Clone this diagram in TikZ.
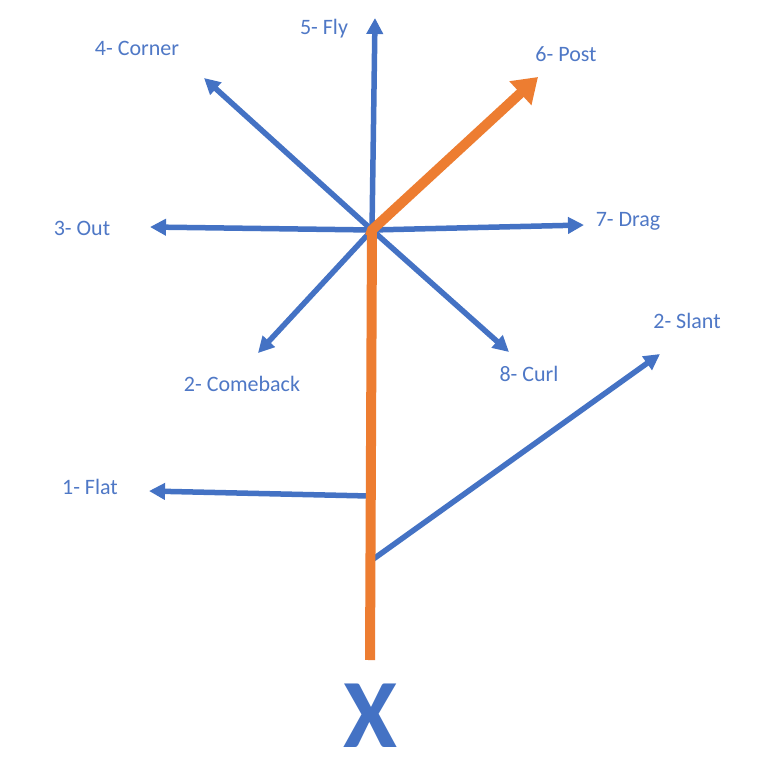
\documentclass[tikz,border=0pt]{standalone}
\usepackage{fontspec}
\setmainfont{Carlito}
\usetikzlibrary{arrows.meta}
\definecolor{rblue}{HTML}{4472C4}
\definecolor{tblue}{HTML}{4F78C6}
\definecolor{rorange}{HTML}{ED7D31}
\tikzset{
  route/.style={draw=rblue, line width=5.5pt, -{Triangle[length=16pt,width=16pt]}},
  post/.style={draw=rorange, line width=10pt, line join=miter, -{Triangle[length=24pt,width=31pt]}},
  stem/.style={draw=rorange, line width=10pt},
  lbl/.style={text=tblue, font=\fontsize{22pt}{24pt}\selectfont, inner sep=0pt},
}
\begin{document}
\begin{tikzpicture}[x=1pt,y=-1pt]
\useasboundingbox (0,0) rectangle (768,779);
\fill[white] (0,0) rectangle (768,779);
% coordinates
\coordinate (hub) at (372,230);
\coordinate (bottom) at (370,660);
\coordinate (flatS) at (369,496);
\coordinate (slantS) at (372,560);
\coordinate (flyT) at (375,18);
\coordinate (cornerT) at (204,78);
\coordinate (outT) at (150,227);
\coordinate (dragT) at (584,225);
\coordinate (comebackT) at (258,353);
\coordinate (curlT) at (509,352);
\coordinate (flatT) at (149,491);
\coordinate (slantT) at (660,354);
\coordinate (postT) at (538,77);
% blue routes
\draw[route] (hub) -- (flyT);
\draw[route] (hub) -- (cornerT);
\draw[route] (hub) -- (outT);
\draw[route] (hub) -- (dragT);
\draw[route] (hub) -- (comebackT);
\draw[route] (hub) -- (curlT);
\draw[route] (flatS) -- (flatT);
\draw[route] (slantS) -- (slantT);
% orange stem and post
\draw[stem] (bottom) -- (hub);
\draw[post] (370,236) -- (hub) -- (postT);
% labels
\node[lbl] (fly) at (324,29) {5- Fly};
\node[lbl] (corner) at (137,48) {4- Corner};
\node[lbl] (postL) at (566,54) {6- Post};
\node[lbl] (out) at (82,228) {3- Out};
\node[lbl] (drag) at (628,221) {7- Drag};
\node[lbl] (slant) at (687,321) {2- Slant};
\node[lbl] (comeback) at (242,384) {2- Comeback};
\node[lbl] (curl) at (529,374) {8- Curl};
\node[lbl] (flat) at (90,487) {1- Flat};
\node[text=rblue, font=\bfseries\fontsize{98pt}{98pt}\selectfont, inner sep=0pt] (x) at (370,716) {X};
\end{tikzpicture}
\end{document}
